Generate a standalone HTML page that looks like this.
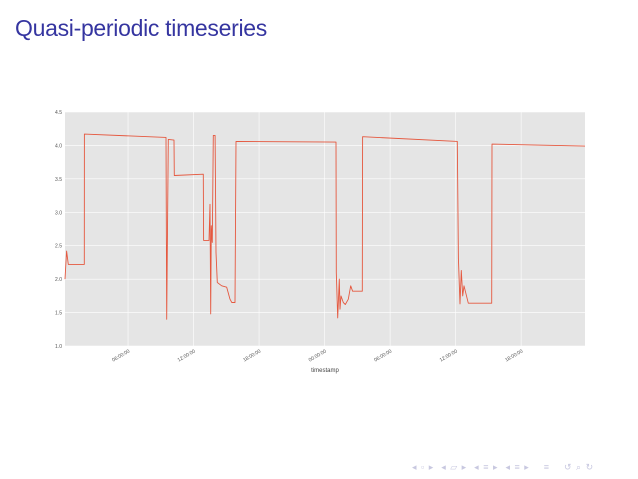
<!DOCTYPE html>
<html><head><meta charset="utf-8"><style>
body{margin:0;width:638px;height:479px;background:#fff;overflow:hidden;position:relative;font-family:"Liberation Sans",sans-serif}
#title{position:absolute;left:15px;top:15px;font-size:23px;color:#3535a0;white-space:nowrap;letter-spacing:-0.3px}
#nav{position:absolute;left:412px;top:462px;font-size:9px;color:#c8c8e0;white-space:nowrap;letter-spacing:1px}
</style></head><body>
<div id="title">Quasi-periodic timeseries</div>
<svg id="chart" width="638" height="479" style="position:absolute;left:0;top:0"></svg>
<div id="nav">◂ ▫ ▸ &nbsp;◂ ▱ ▸ &nbsp;◂ ≡ ▸ &nbsp;◂ ≡ ▸ &nbsp;&nbsp; ≡ &nbsp;&nbsp; ↺ ⌕ ↻</div>
<script>
const hours=[0.23,0.38,0.53,2.0,2.01,9.48,9.54,9.69,10.21,10.24,12.89,12.92,13.42,13.51,13.57,13.63,13.72,13.81,13.97,14.06,14.18,14.58,15.04,15.34,15.5,15.8,15.89,25.05,25.07,25.2,25.35,25.41,25.5,25.71,25.9,26.17,26.39,26.57,27.45,27.48,36.15,36.25,36.4,36.52,36.65,36.77,37.16,39.3,39.33,47.85];
const values=[2.0,2.42,2.22,2.22,4.17,4.12,1.4,4.09,4.08,3.55,3.57,2.58,2.58,3.12,1.48,2.8,2.55,4.15,4.15,2.4,1.95,1.9,1.88,1.7,1.65,1.65,4.06,4.05,2.1,1.42,2.0,1.55,1.75,1.65,1.62,1.7,1.9,1.82,1.82,4.13,4.06,2.31,1.63,2.13,1.75,1.9,1.64,1.64,4.02,3.99];
const yTicks=[1.0,1.5,2.0,2.5,3.0,3.5,4.0,4.5];
const xTickHours=[6,12,18,24,30,36,42];
const xTickLabels=["06:00:00","12:00:00","18:00:00","00:00:00","06:00:00","12:00:00","18:00:00"];
const L=65,R=585,T=112,B=346;
const xs=h=>62.5+h*10.92;
const ys=v=>B-(v-1.0)/3.5*(B-T);
const svg=document.getElementById('chart');
const NS='http://www.w3.org/2000/svg';
function mk(tag,attrs){const e=document.createElementNS(NS,tag);for(const k in attrs)e.setAttribute(k,attrs[k]);svg.appendChild(e);return e;}
const bg=mk('rect',{x:L,y:T,width:R-L,height:B-T,fill:'#e5e5e5'});


yTicks.forEach(v=>{
  const g=mk('line',{x1:L,x2:R,y1:ys(v),y2:ys(v),stroke:'#fff','stroke-width':0.6});
  
  
  const t=mk('text',{x:L-3,y:ys(v)+2,'font-size':5,fill:'#555','text-anchor':'end','font-family':'Liberation Sans, sans-serif'});
  t.textContent=v.toFixed(1);
  
  
});
xTickHours.forEach((h,i)=>{
  const x=xs(h);
  const g=mk('line',{x1:x,x2:x,y1:T,y2:B,stroke:'#fff','stroke-width':0.6});
  
  
  const t=mk('text',{x:x+2,y:B+6,'font-size':5,fill:'#555','text-anchor':'end','font-family':'Liberation Sans, sans-serif',transform:`rotate(-30 ${x+2} ${B+6})`});
  t.textContent=xTickLabels[i];
  
  
});
const xl=mk('text',{x:325,y:372,'font-size':6,fill:'#444','text-anchor':'middle','font-family':'Liberation Sans, sans-serif'});
xl.textContent='timestamp';


const pts=hours.map((h,i)=>xs(h).toFixed(1)+','+ys(values[i]).toFixed(1)).join(' ');
const line=mk('polyline',{points:pts,fill:'none',stroke:'#e5583f','stroke-width':0.9,'stroke-linejoin':'round'});


</script>
</body></html>
